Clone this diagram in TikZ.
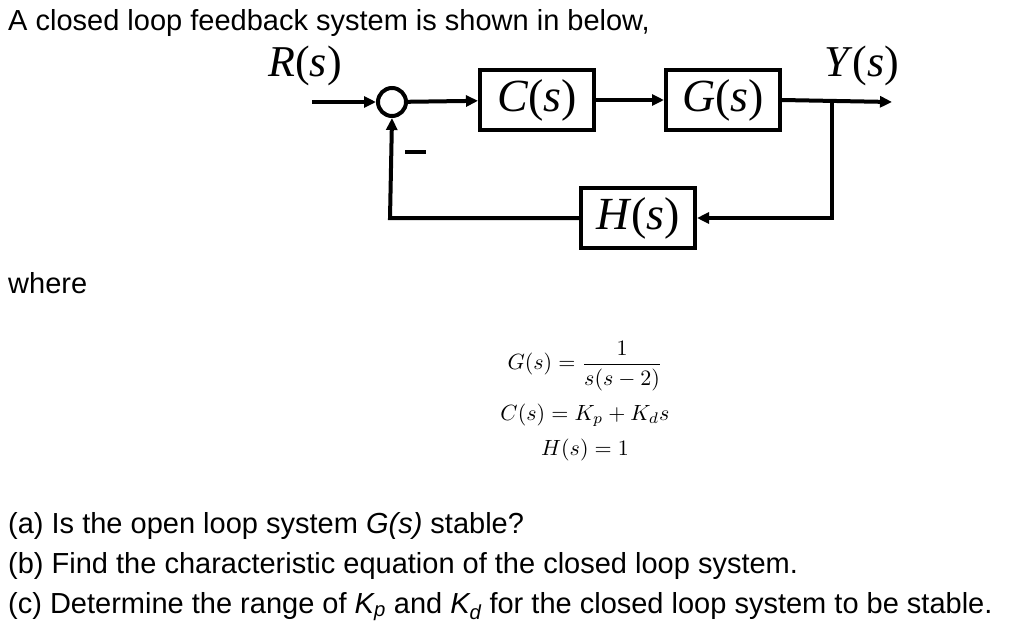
\documentclass[tikz,border=0pt]{standalone}
\usepackage{amsmath}
\usepackage{graphicx}
\usepackage{fontspec}
\setmainfont{Liberation Sans}
\newfontfamily\tms{Liberation Serif}
\usetikzlibrary{arrows.meta}
\begin{document}
\begin{tikzpicture}[x=1pt,y=-1pt,
  blk/.style={draw,line width=4pt,minimum width=114pt,minimum height=60pt,inner sep=0pt,font=\tms\fontsize{46}{48}\selectfont},
  wire/.style={line width=4pt},
  arr/.style={wire,-{Triangle[length=12pt,width=11pt]}},
  txt/.style={anchor=base west,inner sep=0pt,font=\fontsize{29}{33}\selectfont},
  lbl/.style={inner sep=0pt,font=\tms\fontsize{44}{46}\selectfont}]
\useasboundingbox (0,0) rectangle (1022,630);
\node[txt] (title) at (8,30) {A closed loop feedback system is shown in below,};
\node[draw,circle,line width=4pt,minimum size=28pt,inner sep=0pt] (sum) at (392,102) {};
\node[blk] (C) at (537,100) {\textit{C}(\textit{s})};
\node[blk] (G) at (723,100) {\textit{G}(\textit{s})};
\node[blk] (H) at (638,218) {\textit{H}(\textit{s})};
\coordinate (in) at (312,102);
\coordinate (out) at (892,102);
\coordinate (br) at (832,102);
\coordinate (fb1) at (832,218);
\coordinate (fb2) at (390,218);
\node[lbl] (R) at (305,66) {\textit{R}(\textit{s})};
\node[lbl] (Y) at (862,66) {\textit{Y}(\textit{s})};
\draw[arr] (in) -- (sum);
\draw[arr] (sum) -- (C);
\draw[arr] (C) -- (G);
\draw[arr] (G.east) -- (out);
\draw[arr] (br) -- (fb1) -- (H.east);
\draw[arr] (H.west) -- (fb2) -- (sum.south);
\draw[wire] (405,152) -- (426,152);
\node[txt] (where) at (8,293) {where};
\node[inner sep=0pt] (eq) at (585,402) {\scalebox{2.2}{$\begin{gathered}
G(s)=\dfrac{1}{s(s-2)}\\[1pt]
C(s)=K_p+K_d s\\[1pt]
H(s)=1
\end{gathered}$}};
\node[txt] (qa) at (8,533) {(a) Is the open loop system \textit{G(s)} stable?};
\node[txt] (qb) at (8,573) {(b) Find the characteristic equation of the closed loop system.};
\node[txt] (qc) at (8,613) {(c) Determine the range of \textit{K\textsubscript{p}} and \textit{K\textsubscript{d}} for the closed loop system to be stable.};
\end{tikzpicture}
\end{document}
